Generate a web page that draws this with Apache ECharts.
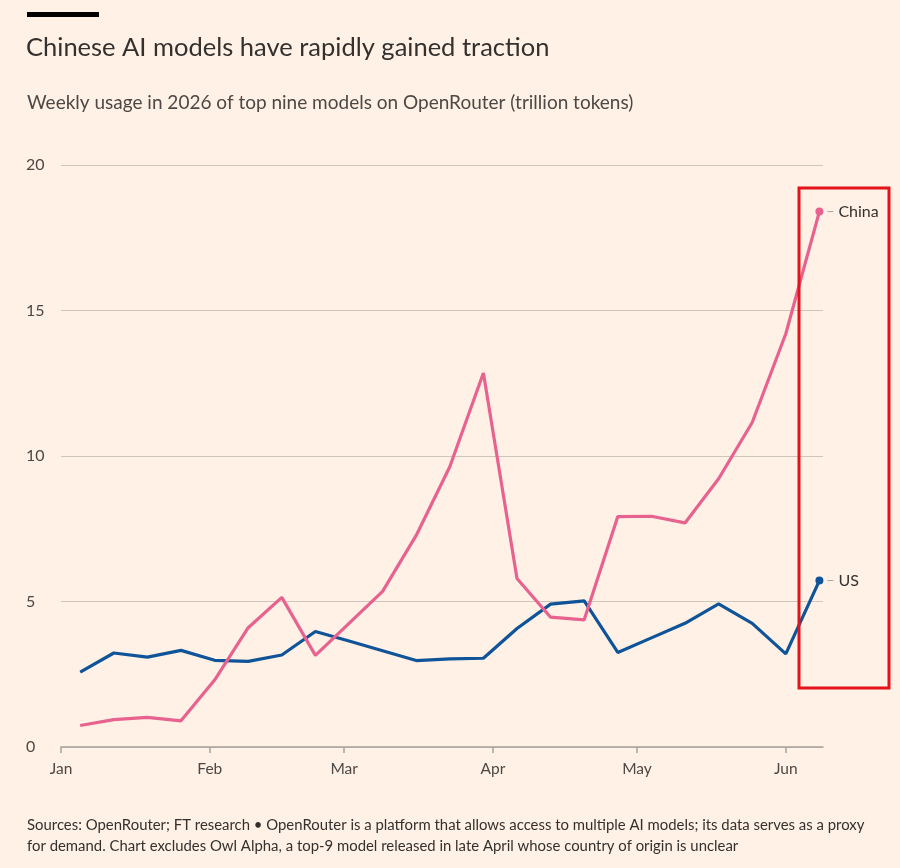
<!DOCTYPE html>
<html>
<head>
<meta charset="utf-8">
<script src="https://cdn.jsdelivr.net/npm/echarts@6/dist/echarts.min.js"></script>
<style>
  html, body { margin: 0; padding: 0; background: #fff1e5; }
  #main { width: 900px; height: 868px; }
</style>
</head>
<body>
<div id="main"></div>
<script>
// weekly points, Mondays of 2026
const weeks = [
  "2026-01-05", "2026-01-12", "2026-01-19", "2026-01-26",
  "2026-02-02", "2026-02-09", "2026-02-16", "2026-02-23",
  "2026-03-02", "2026-03-09", "2026-03-16", "2026-03-23", "2026-03-30",
  "2026-04-06", "2026-04-13", "2026-04-20", "2026-04-27",
  "2026-05-04", "2026-05-11", "2026-05-18", "2026-05-25",
  "2026-06-01", "2026-06-08"
];
const china = [0.74, 0.94, 1.02, 0.9, 2.3, 4.1, 5.14, 3.15, 4.25, 5.35, 7.27, 9.63, 12.85,
  5.79, 4.46, 4.37, 7.92, 7.93, 7.7, 9.22, 11.15, 14.2, 18.4];
const us = [2.57, 3.23, 3.09, 3.32, 2.98, 2.94, 3.16, 3.97, 3.64, 3.31, 2.97, 3.03, 3.05,
  4.07, 4.91, 5.02, 3.25, 3.75, 4.25, 4.92, 4.25, 3.2, 5.72];
const monthTicks = ["2026-01-01", "2026-02-01", "2026-03-01", "2026-04-01", "2026-05-01", "2026-06-01"];
const monthNames = ["Jan", "Feb", "Mar", "Apr", "May", "Jun"];
const yTicks = [0, 5, 10, 15, 20];

const toMs = (d) => Date.parse(d + "T00:00:00Z");
const font = "Lato, 'Noto Sans', sans-serif";
const ink = "#33302e";
const pink = "#e8628f";
const blue = "#0f5499";

function pairs(vals) {
  return vals.map((v, i) => [toMs(weeks[i]), v]);
}

// label only on the last point, FT style
function endLabel(name) {
  return {
    show: true,
    position: "right",
    distance: 4,
    formatter: "{t|}{n|" + name + "}",
    rich: {
      t: { width: 6, height: 1, backgroundColor: "#a8a29c" },
      n: { fontFamily: font, fontSize: 16, color: ink, padding: [0, 0, 0, 5] },
    },
  };
}

function series(name, vals, color) {
  const data = pairs(vals).map((p, i, arr) =>
    i === arr.length - 1
      ? { value: p, symbol: "circle", symbolSize: 8, label: endLabel(name) }
      : { value: p });
  return {
    name: name,
    type: "line",
    data: data,
    symbol: "none",
    showSymbol: true,
    lineStyle: { color: color, width: 3.2 },
    itemStyle: { color: color },
    emphasis: { disabled: true },
    animation: false,
  };
}

const myChart = echarts.init(document.getElementById("main"));
const option = {
  backgroundColor: "#fff1e5",
  title: [
    {
      text: "Chinese AI models have rapidly gained traction",
      left: 26, top: 35, padding: 0,
      textStyle: { fontFamily: font, fontSize: 25.5, fontWeight: "normal", color: ink },
    },
    {
      text: "Weekly usage in 2026 of top nine models on OpenRouter (trillion tokens)",
      left: 27, top: 93, padding: 0,
      textStyle: { fontFamily: font, fontSize: 19, fontWeight: "normal", color: "#4d4845" },
    },
    {
      text: "Sources: OpenRouter; FT research \u2022 OpenRouter is a platform that allows access to multiple AI models; its data serves as a proxy\nfor demand. Chart excludes Owl Alpha, a top-9 model released in late April whose country of origin is unclear",
      left: 27, top: 815, padding: 0,
      textStyle: { fontFamily: font, fontSize: 14.9, fontWeight: "normal", color: ink, lineHeight: 21 },
    },
  ],
  grid: { left: 61, right: 77, top: 165, bottom: 121 },
  xAxis: {
    type: "value",
    min: toMs("2026-01-01"),
    max: Date.parse("2026-06-08T18:00:00Z"),
    splitLine: { show: false },
    axisLine: { show: true, lineStyle: { color: "#a8a29c", width: 1.5 } },
    axisTick: {
      show: true, length: 6, lineStyle: { color: "#a8a29c", width: 1.5 },
      customValues: monthTicks.map(toMs),
    },
    axisLabel: {
      customValues: monthTicks.map(toMs),
      formatter: (v) => monthNames[new Date(v).getUTCMonth()],
      fontFamily: font, fontSize: 15.5, color: "#4d4845", margin: 14,
    },
  },
  yAxis: {
    type: "value",
    min: 0, max: 20, interval: 5,
    axisLine: { show: false },
    axisTick: { show: false },
    splitLine: { lineStyle: { color: "#cec6bd", width: 1 } },
    axisLabel: {
      customValues: yTicks,
      align: "left", margin: 35,
      fontFamily: font, fontSize: 16, color: "#4d4845",
    },
  },
  graphic: [
    { type: "rect", shape: { x: 27, y: 12, width: 72, height: 5 }, style: { fill: "#000" } },
    {
      type: "rect", shape: { x: 799, y: 188, width: 90, height: 500 },
      style: { fill: "none", stroke: "#e3121b", lineWidth: 3 }, z: 100,
    },
  ],
  series: [series("US", us, blue), series("China", china, pink)],
};
myChart.setOption(option);
</script>
</body>
</html>
